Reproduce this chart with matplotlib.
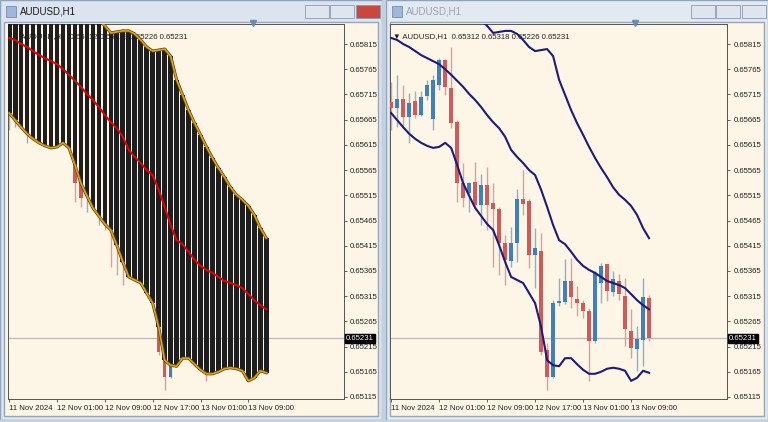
import matplotlib
matplotlib.use("Agg")
import matplotlib.pyplot as plt
from matplotlib.patches import Rectangle
import numpy as np

plt.rcParams['font.family'] = ['Liberation Sans', 'DejaVu Sans']

# ---- data (prices) ----
opens = [0.65700,0.65688,0.65706,0.65670,0.65702,0.65674,0.65712,0.65666,0.65734,0.65783,
         0.65728,0.65660,0.65539,0.65520,0.65541,0.65496,0.65535,0.65500,0.65488,0.65420,
         0.65385,0.65420,0.65508,0.65504,0.65397,0.65405,0.65208,0.65155,0.65301,0.65303,
         0.65345,0.65309,0.65301,0.65286,0.65226,0.65341,0.65379,0.65323,0.65345,0.65315,
         0.65246,0.65210,0.65228,0.65312]
highs = [0.65740,0.65754,0.65734,0.65718,0.65722,0.65722,0.65744,0.65754,0.65787,0.65785,
         0.65809,0.65664,0.65579,0.65541,0.65581,0.65557,0.65571,0.65539,0.65492,0.65436,
         0.65452,0.65528,0.65565,0.65508,0.65450,0.65440,0.65222,0.65307,0.65351,0.65389,
         0.65391,0.65335,0.65307,0.65292,0.65365,0.65381,0.65379,0.65365,0.65359,0.65351,
         0.65290,0.65256,0.65351,0.65318]
lows = [0.65644,0.65650,0.65648,0.65619,0.65668,0.65672,0.65704,0.65644,0.65724,0.65714,
        0.65648,0.65502,0.65492,0.65482,0.65486,0.65456,0.65446,0.65373,0.65357,0.65337,
        0.65373,0.65383,0.65476,0.65371,0.65331,0.65198,0.65129,0.65153,0.65296,0.65299,
        0.65292,0.65276,0.65272,0.65147,0.65222,0.65302,0.65305,0.65315,0.65307,0.65216,
        0.65192,0.65167,0.65177,0.65226]
closes = [0.65688,0.65706,0.65670,0.65698,0.65674,0.65710,0.65734,0.65744,0.65783,0.65730,
          0.65658,0.65539,0.65510,0.65539,0.65496,0.65535,0.65496,0.65488,0.65420,0.65387,
          0.65420,0.65508,0.65498,0.65397,0.65411,0.65204,0.65155,0.65301,0.65305,0.65345,
          0.65313,0.65301,0.65286,0.65226,0.65361,0.65375,0.65325,0.65349,0.65319,0.65250,
          0.65212,0.65230,0.65313,0.65231]
upper = [0.65982,0.65978,0.65974,0.65970,0.65966,0.65962,0.65956,0.65950,0.65942,0.65934,
         0.65926,0.65914,0.65902,0.65890,0.65879,0.65863,0.65851,0.65837,0.65839,0.65841,
         0.65841,0.65835,0.65823,0.65809,0.65801,0.65803,0.65805,0.65791,0.65744,0.65714,
         0.65684,0.65658,0.65635,0.65611,0.65589,0.65569,0.65551,0.65531,0.65516,0.65506,
         0.65494,0.65476,0.65450,0.65430]
middle = [0.65827,0.65823,0.65815,0.65809,0.65801,0.65793,0.65787,0.65781,0.65775,0.65765,
          0.65754,0.65742,0.65730,0.65716,0.65704,0.65690,0.65674,0.65660,0.65648,0.65631,
          0.65605,0.65591,0.65579,0.65565,0.65555,0.65526,0.65492,0.65456,0.65426,0.65418,
          0.65403,0.65387,0.65375,0.65367,0.65361,0.65353,0.65345,0.65341,0.65337,0.65331,
          0.65319,0.65307,0.65297,0.65289]
lower = [0.65678,0.65664,0.65650,0.65637,0.65627,0.65619,0.65613,0.65609,0.65611,0.65619,
         0.65609,0.65575,0.65539,0.65514,0.65490,0.65474,0.65458,0.65446,0.65416,0.65383,
         0.65353,0.65347,0.65341,0.65321,0.65301,0.65254,0.65188,0.65178,0.65176,0.65192,
         0.65192,0.65180,0.65169,0.65161,0.65161,0.65165,0.65171,0.65173,0.65171,0.65167,
         0.65147,0.65153,0.65167,0.65163]
time_labels = ["11 Nov 2024","12 Nov 01:00","12 Nov 09:00","12 Nov 17:00","13 Nov 01:00","13 Nov 09:00"]
price_ticks = [0.65115,0.65165,0.65215,0.65265,0.65315,0.65365,0.65415,0.65465,
               0.65515,0.65565,0.65615,0.65665,0.65715,0.65765,0.65815]
last_price = 0.65231
header = "AUDUSD,H1  0.65312 0.65318 0.65226 0.65231"

W, H = 768, 422
fig = plt.figure(figsize=(W/100, H/100), dpi=100)
fig.patch.set_facecolor("#c5d0de")
CREAM = "#fdf5e6"
BULL, BEAR = "#3f7fbd", "#d05a5a"
BULLW, BEARW = "#86b0d8", "#e79a9a"
FS = 5.6

def px(x, y, w, h):
    return [x/W, 1-(y+h)/H, w/W, h/H]

def window(x0, title, active):
    bg = fig.add_axes(px(x0, 0, 382, 420)); bg.set_axis_off()
    bg.set_xlim(0, 382); bg.set_ylim(420, 0)
    bg.add_patch(Rectangle((0, 0), 382, 420, fc="#dbe4ef" if active else "#e3e9f1", ec="#8fa3bb", lw=1))
    bg.add_patch(Rectangle((4, 22), 374, 394, fc=CREAM, ec="#9aa6b4", lw=1))
    bg.text(20, 12, title, fontsize=7, va="center", color="#1a1a1a" if active else "#9aa3ad")
    bg.add_patch(Rectangle((6, 6), 10, 11, fc="#9fb8d6", ec="#6f8fb5", lw=0.6))
    for bx, c in [(305, "#dfe5ee"), (330, "#dfe5ee"), (356, "#c9483b" if active else "#dfe5ee")]:
        bg.add_patch(Rectangle((bx, 5), 24, 13, fc=c, ec="#8d9bb0", lw=0.6))
    return bg

window(0, "AUDUSD,H1", True)
window(386, "AUDUSD,H1", False)

N = len(opens)
xs = np.arange(N)
tick_pos = [0, 8, 16, 24, 32, 40]

def setup(ax):
    ax.set_facecolor(CREAM)
    ax.set_xlim(-0.2, 56)
    ax.set_ylim(0.65111, 0.658547)
    ax.yaxis.tick_right()
    ax.set_yticks(price_ticks)
    ax.set_yticklabels([f"{p:.5f}" for p in price_ticks], fontsize=FS, color="#222")
    ax.set_xticks(tick_pos)
    ax.set_xticklabels(time_labels, fontsize=FS, color="#222", ha="left")
    ax.tick_params(length=2.5, width=0.6, pad=2, colors="#444")
    for t in ax.get_xticklabels(): t.set_color("#222")
    for t in ax.get_yticklabels(): t.set_color("#222")
    for s in ax.spines.values():
        s.set_color("#555"); s.set_linewidth(0.7)
    ax.axhline(last_price, color="#b9b9b9", lw=0.9, zorder=1)
    ax.text(1.006, last_price, f"{last_price:.5f}", transform=ax.get_yaxis_transform(),
            fontsize=FS, color="white", va="center", ha="left",
            bbox=dict(fc="black", ec="black", pad=0.8), zorder=10)
    ax.plot([40.7], [0.65857], marker="v", color="#6d8aa8", ms=4, clip_on=False, zorder=9)

def candles(ax):
    for i in xs:
        o, h, l, c = opens[i], highs[i], lows[i], closes[i]
        bull = c >= o
        ax.vlines(i, l, h, color=BULLW if bull else BEARW, lw=1.0, zorder=2)
        ax.bar(i, abs(c-o) or 0.00002, bottom=min(o, c), width=0.6,
               color=BULL if bull else BEAR, zorder=3)

# left chart
axL = fig.add_axes(px(8, 24, 336, 375))
setup(axL)
axL.text(0.008, 0.975, "▼ " + header, transform=axL.transAxes, fontsize=FS, va="top", zorder=1, color="#222",
         family=['Liberation Sans', 'DejaVu Sans'])
candles(axL)
axL.bar(xs, np.array(upper)-np.array(lower), bottom=lower, width=0.78, color="#1e1e1e", zorder=4)
for arr in (upper, lower):
    axL.plot(xs, arr, color="#5a4200", lw=2.2, zorder=5)
    axL.plot(xs, arr, color="#e0a020", lw=1.2, zorder=6)
axL.plot(xs, middle, color="#e60000", lw=1.5, zorder=7)

# right chart
axR = fig.add_axes(px(390, 24, 337, 375))
setup(axR)
axR.text(0.008, 0.975, "▼ " + header, transform=axR.transAxes, fontsize=FS, va="top", zorder=8, color="#222",
         family=['Liberation Sans', 'DejaVu Sans'])
candles(axR)
for arr in (upper, middle, lower):
    axR.plot(xs, arr, color="#1c1c78", lw=1.5, zorder=5)

fig.savefig("out.png", dpi=100, facecolor=fig.get_facecolor())
